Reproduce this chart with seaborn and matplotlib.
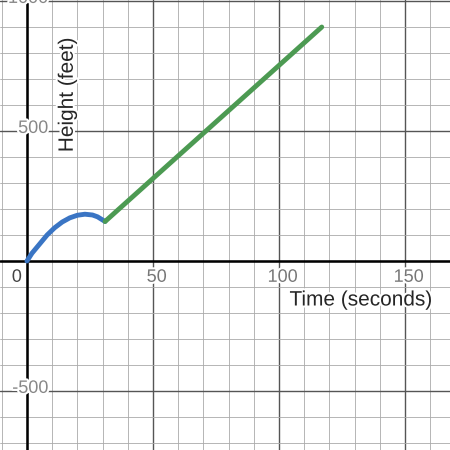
import matplotlib
matplotlib.use("Agg")
from matplotlib import pyplot as plt
import matplotlib.patheffects as pe
import seaborn as sns
import pandas as pd

# blue arc
arc_t = [0, 2, 5, 8, 11, 14, 17, 20, 23, 26, 28, 31]
arc_h = [0, 30, 65, 100, 128, 150, 166, 176, 180, 177, 170, 152]
# green straight part
line_t = [31, 117]
line_h = [152, 900]

x_ticks = [0, 50, 100, 150]
y_ticks = [-500, 500, 1000]

sns.set_style("white")
plt.rcParams["font.family"] = ["Liberation Sans", "DejaVu Sans"]

fig, ax = plt.subplots(figsize=(4.5, 4.5), dpi=100)
fig.subplots_adjust(0, 0, 1, 1)
ax.set_xlim(-10.7, 167.9)
ax.set_ylim(-727, 1004)

for v in range(-10, 171, 10):
    ax.axvline(v, color="#aaaaaa" if v % 50 else "#555555", lw=0.6 if v % 50 else 1.0, zorder=0)
for v in range(-700, 1001, 100):
    ax.axhline(v, color="#aaaaaa" if v % 500 else "#555555", lw=0.6 if v % 500 else 1.0, zorder=0)
ax.axvline(0, color="black", lw=1.8, zorder=1)
ax.axhline(0, color="black", lw=1.8, zorder=1)

sns.lineplot(data=pd.DataFrame({"t": arc_t, "h": arc_h}), x="t", y="h", ax=ax,
             color="#3a75c4", lw=3.5, sort=False, zorder=3)
sns.lineplot(data=pd.DataFrame({"t": line_t, "h": line_h}), x="t", y="h", ax=ax,
             color="#4c9a52", lw=3.5, zorder=3)

ax.set_xticks([]); ax.set_yticks([])
ax.set_xlabel(""); ax.set_ylabel("")
for s in ax.spines.values():
    s.set_visible(False)

halo = [pe.withStroke(linewidth=3, foreground="white")]
for v in x_ticks:
    ax.text(v - 4 if v == 0 else v + 1.5, -30, str(v), ha="center", va="top",
            fontsize=13, color="#444444" if v == 0 else "#777777", path_effects=halo)
for v in y_ticks:
    ax.text(8.5, v + 10, str(v), ha="right", va="center", fontsize=13,
            color="#888888", path_effects=halo)

ax.text(161, -150, "Time (seconds)", ha="right", va="center", fontsize=15, path_effects=halo)
ax.text(16, 640, "Height (feet)", ha="center", va="center", rotation=90,
        fontsize=15, path_effects=halo)

fig.savefig("out.png", dpi=100)
